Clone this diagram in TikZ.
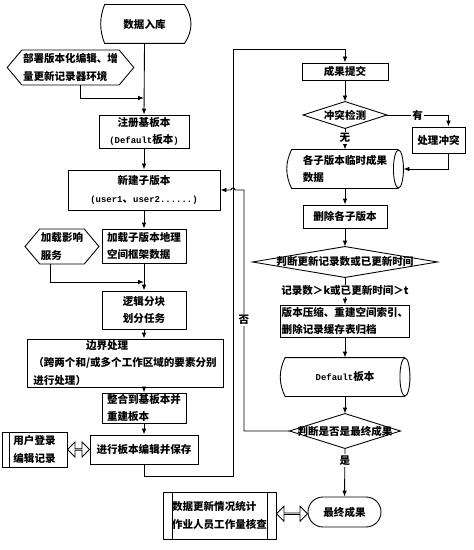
\documentclass[tikz,border=0pt]{standalone}
\usepackage{fontspec}
\setmainfont{Noto Sans CJK SC}
\newfontfamily\monofnt[Scale=0.85]{Liberation Mono}
\usetikzlibrary{arrows.meta}
\usetikzlibrary{calc}
\usetikzlibrary{shapes.symbols}
\usetikzlibrary{shapes.arrows}
\def\fs{\fontsize{9pt}{15pt}\selectfont\bfseries}
\def\drawdia#1{\draw (#1.west) -- (#1.north) -- (#1.east) -- (#1.south) -- cycle;}
\def\drawcyl#1{%
  \draw (#1.north east) -- (#1.north west) to[bend right=25] (#1.south west) -- (#1.south east);
  \draw (#1.east) ellipse [x radius=1.5mm, y radius=5.7mm];}
\tikzset{
  box/.style={draw, rectangle, inner sep=1pt, font=\fs, align=center},
  plain/.style={rectangle, inner sep=1pt, font=\fs, align=center},
  hexa/.style={draw, shape=signal, signal to=west and east, signal pointer angle=100,
    inner sep=1pt, font=\fs, align=left},
  lbl/.style={fill=white, inner sep=1pt, font=\fs},
  dblarrow/.style={draw, fill=white, shape=double arrow, double arrow head extend=1.2mm,
    minimum width=4.5mm, inner sep=0pt},
  leftbar/.style={box, path picture={
    \draw ([xshift=#1]path picture bounding box.north west) -- ([xshift=#1]path picture bounding box.south west);}},
  bothbar/.style={box, path picture={
    \draw ([xshift=#1]path picture bounding box.north west) -- ([xshift=#1]path picture bounding box.south west);
    \draw ([xshift=-#1]path picture bounding box.north east) -- ([xshift=-#1]path picture bounding box.south east);}},
}

\begin{document}
\begin{tikzpicture}[x=0.3mm, y=-0.3mm, line width=0.75pt, >={Latex[length=1.8mm, width=1.4mm]}]
  \useasboundingbox (0,0) rectangle (474,550);

  % left column
  \node[plain, minimum width=23.7mm, minimum height=11.4mm] (in) at (144.5,24) {数据入库};
  \draw (in.north west) to[bend right=20] (in.south west) -- (in.south east) to[bend right=35] (in.north east) -- cycle;
  \node[hexa, minimum width=34.5mm, minimum height=10.5mm] (deploy) at (70.5,67.5) {部署版本化编辑、增\\量更新记录器环境};
  \node[box, minimum width=27mm, minimum height=9.9mm] (reg) at (144,131.5) {注册基板本\\{\monofnt(Default}板本{\monofnt)}};
  \node[box, minimum width=45.6mm, minimum height=12mm] (newsub) at (144,190) {新建子版本\\{\monofnt(user1}、{\monofnt user2......)}};
  \node[box, minimum width=25.2mm, minimum height=10.2mm, align=left] (load) at (144,246) {加载子版本地理\\空间框架数据};
  \node[hexa, minimum width=21mm, minimum height=10.5mm] (svc) at (62,246.5) {加载影响\\服务};
  \node[box, minimum width=25.2mm, minimum height=11.4mm] (split) at (144,310) {逻辑分块\\划分任务};
  \node[box, minimum width=58.8mm, minimum height=14.4mm, align=left] (border) at (125,363) {\hspace*{5em}边界处理\\（跨两个和/或多个工作区域的要素分别\\进行处理）};
  \node[box, minimum width=25.2mm, minimum height=9mm, align=left] (merge) at (144,408) {整合到基板本并\\重建板本};
  \node[box, minimum width=32.4mm, minimum height=8.7mm] (edit) at (144,449.5) {进行板本编辑并保存};
  \node[leftbar=2.1mm, minimum width=19.5mm, minimum height=10.5mm, align=left] (user) at (34.5,449.5) {用户登录\\编辑记录};

  % right column
  \node[box, minimum width=25.8mm, minimum height=5.1mm] (submit) at (345,71.5) {成果提交};
  \node[plain, minimum width=24.9mm, minimum height=7.8mm] (conflict) at (345,115) {冲突检测};
  \drawdia{conflict}
  \node[box, minimum width=15.9mm, minimum height=7.8mm] (handle) at (438.5,140) {处理冲突};
  \node[plain, minimum width=31.8mm, minimum height=11.4mm, align=left] (temp) at (345,169) {各子版本临时成果\\数据};
  \drawcyl{temp}
  \node[box, minimum width=25.2mm, minimum height=6.9mm] (delsub) at (345,216.5) {删除各子版本};
  \node[plain, minimum width=55.2mm, minimum height=9mm] (judge) at (345,262) {判断更新记录数或已更新时间};
  \drawdia{judge}
  \node[box, minimum width=37.2mm, minimum height=9.6mm, align=left] (compress) at (345,321) {版本压缩、重建空间索引、\\删除记录缓存表归档};
  \node[plain, minimum width=35.7mm, minimum height=11.4mm] (def) at (345,377) {{\monofnt Default}板本};
  \drawcyl{def}
  \node[plain, minimum width=33mm, minimum height=10.2mm] (final) at (345,431) {判断是否是最终成果};
  \drawdia{final}
  \node[box, rounded corners=4.5mm, minimum width=21.9mm, minimum height=9mm] (result) at (344.5,512) {最终成果};
  \node[bothbar=2.7mm, minimum width=33.9mm, minimum height=14.1mm, align=left] (stats) at (219.5,515.5) {数据更新情况统计\\作业人员工作量核查};

  % double arrows
  \node[dblarrow, minimum height=6.6mm] (ue) at ($(user.east)!0.5!(edit.west)$) {};
  \node[dblarrow, minimum height=9.3mm] (sr) at ($(stats.east)!0.5!(result.west)$) {};

  % left flow
  \coordinate (j1) at (144,98);
  \coordinate (j2) at (144,282);
  \draw[->] (in.south) -- (reg.north);
  \draw[->] ([xshift=3mm]deploy.south) |- (j1);
  \draw[->] (reg.south) -- (newsub.north);
  \draw[->] (newsub.south) -- (load.north);
  \draw[->] (load.south) -- (split.north);
  \draw[->] ([xshift=-3.6mm]svc.south) |- (j2);
  \draw[->] (split.south) -- (split.south |- border.north);
  \draw[->] (merge.north |- border.south) -- (merge.north);
  \draw[->] (merge.south) -- (edit.north);

  % loop to submit
  \coordinate (bot) at (233,476);
  \coordinate (top) at (233,49);
  \draw[->] (edit.south) |- (bot) -- (top) -| (submit.north);

  % right flow
  \draw[->] (submit.south) -- (conflict.north);
  \draw[->] (conflict.east) -| ([xshift=3mm]handle.north) node[lbl, pos=0.25] {有};
  \draw[->] ([xshift=3mm]handle.south) |- ([xshift=1.5mm]temp.east);
  \draw[->] (conflict.south) -- (temp.north) node[lbl, pos=0.45] {无};
  \draw[->] (temp.south) -- (delsub.north);
  \draw[->] (delsub.south) -- (judge.north);
  \draw[->] (judge.south) -- (compress.north) node[lbl, pos=0.5] {记录数＞k或已更新时间＞t};
  \draw[->] (compress.south) -- (def.north);
  \draw[->] (def.south) -- (final.north);
  \draw[->] (final.south) -- (result.north) node[lbl, pos=0.25] {是};

  % back to new sub version
  \coordinate (nox) at (244,190);
  \coordinate (hop) at (235,190);
  \draw[->] (final.west) -| (nox) node[lbl, pos=0.73] {否} -- (hop) arc[start angle=0, end angle=180, radius=0.6mm] -- (newsub.east);
\end{tikzpicture}
\end{document}
